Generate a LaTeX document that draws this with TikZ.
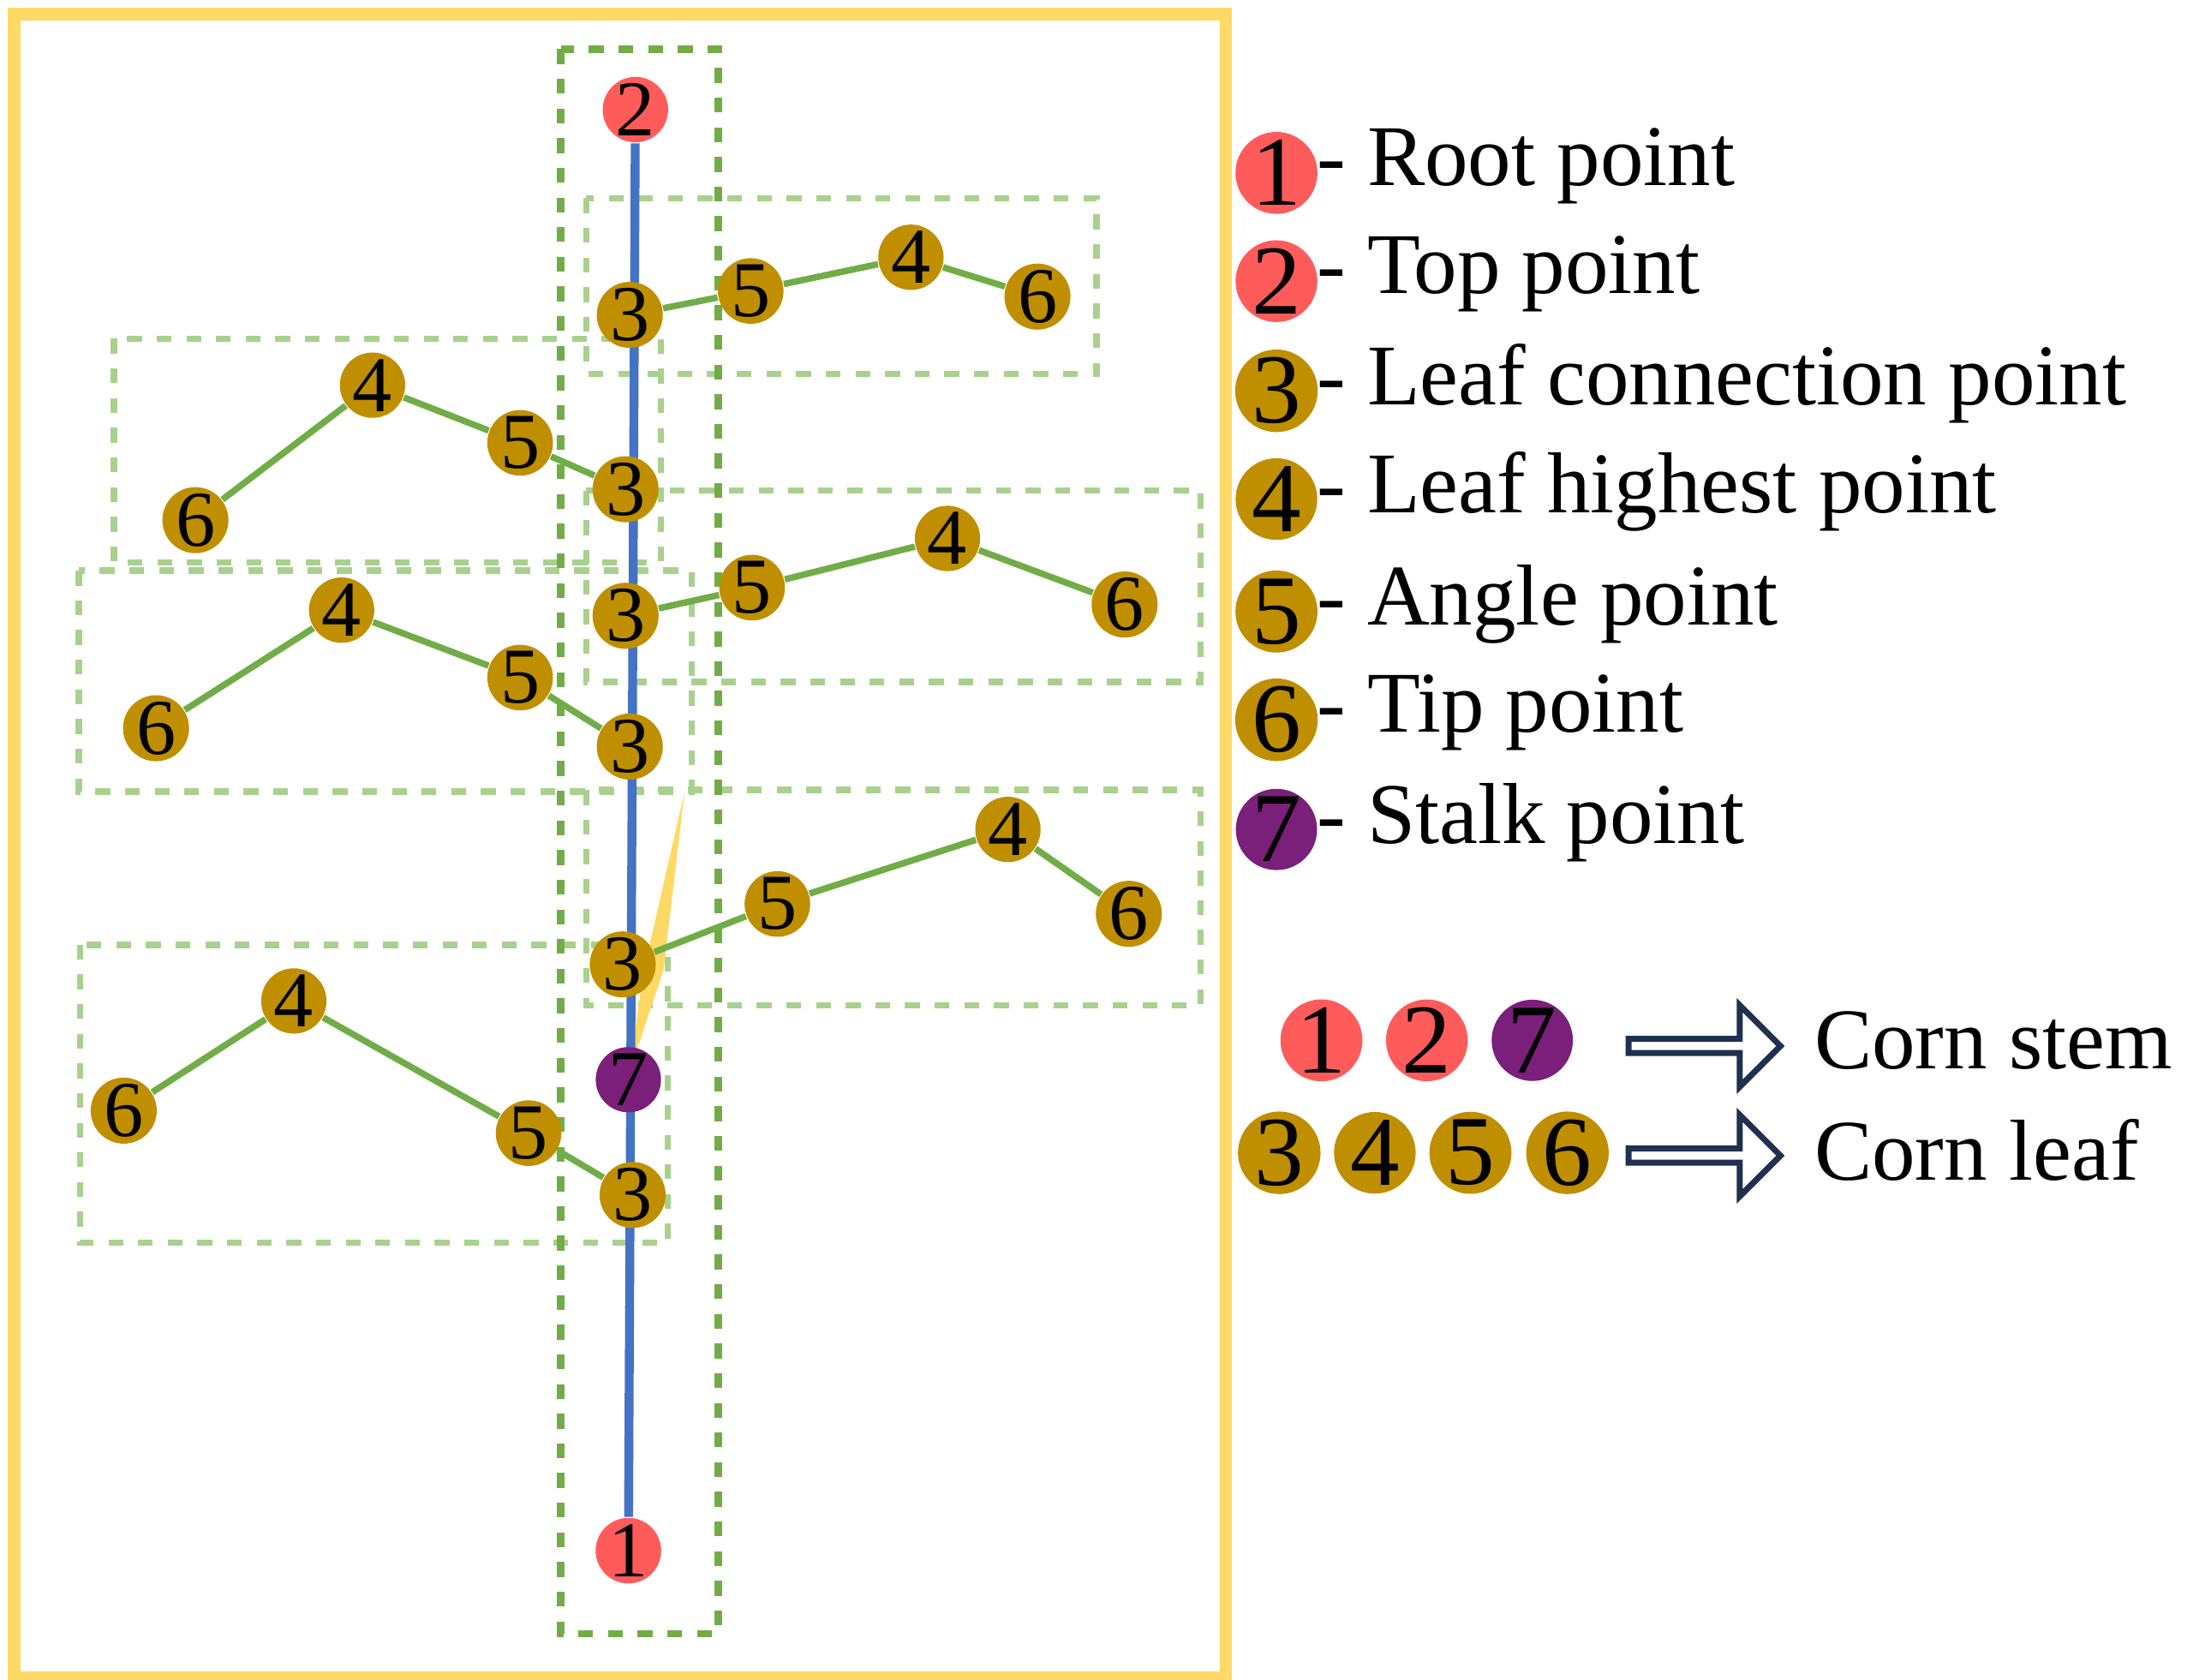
\documentclass[tikz,border=0pt]{standalone}
\usepackage{fontspec}
\setmainfont{Liberation Serif}
\usetikzlibrary{shapes.arrows}
\definecolor{ptred}{HTML}{FF5B5B}
\definecolor{ptgold}{HTML}{BF8F00}
\definecolor{ptpurple}{HTML}{7A1F7A}
\definecolor{stemblue}{HTML}{4472C4}
\definecolor{leafgreen}{HTML}{70AD47}
\definecolor{boxgreen}{HTML}{A9D18E}
\definecolor{frameyellow}{HTML}{FFD966}
\definecolor{arrownavy}{HTML}{1F3050}
\tikzset{
  pt/.style={circle, inner sep=0pt, minimum size=0.4cm, font=\fontsize{16}{16}\selectfont},
  red pt/.style={pt, fill=ptred},
  gold pt/.style={pt, fill=ptgold},
  purple pt/.style={pt, fill=ptpurple},
  big/.style={minimum size=0.56cm, font=\fontsize{20}{20}\selectfont},
  leaf/.style={leafgreen, line width=1.3pt},
  leaf box/.style={boxgreen, dashed, line width=1.3pt},
  legend/.style={anchor=west, inner sep=0pt, font=\fontsize{17.5}{17.5}\selectfont},
  hollow arrow/.style={single arrow, draw=arrownavy, line width=1.2pt, minimum width=0.58cm,
    single arrow head extend=0.1cm, minimum height=1.08cm, inner sep=0pt}
}
\begin{document}
\begin{tikzpicture}[x=0.01cm, y=-0.01cm]
  \useasboundingbox (0,0) rectangle (1560,1195);
  % Frame and boxes
  \draw[frameyellow, line width=2.5pt] (10,10) rectangle (872,1193);
  \draw[leaf box] (417,141) rectangle (780,266);
  \draw[leaf box] (81,241) rectangle (470,400);
  \draw[leaf box] (417,349) rectangle (854,485);
  \draw[leaf box] (56,406) rectangle (492,563);
  \draw[leaf box] (417,562) rectangle (854,715);
  \draw[leaf box] (57,672) rectangle (475,884);
  \draw[leafgreen, dashed, line width=1.5pt] (399,35) rectangle (511,1162);
  \fill[frameyellow] (487,563) -- (472,690) -- (447,765) -- (458,690) -- cycle;

  % Stem points
  \node[red pt] (top) at (452,78) {2};
  \node[red pt] (root) at (447,1103) {1};
  \node[purple pt] (stalk) at (447,768) {7};
  \draw[stemblue, line width=1.8pt] (top) -- (root);
  \node[purple pt] at (stalk) {7};

  % Leaves: connection, angle, highest, tip
  \foreach \n/\ax/\ay/\bx/\by/\cx/\cy/\dx/\dy in {
      a/448/224/534/207/648/183/738/211,
      b/445/348/370/315/265/274/139/370,
      c/445/438/535/418/674/383/800/430,
      d/448/531/370/482/243/434/111/518,
      e/443/686/553/643/717/590/803/650,
      f/450/850/376/806/209/712/88/790} {
    \node[gold pt] (\n3) at (\ax,\ay) {3};
    \node[gold pt] (\n5) at (\bx,\by) {5};
    \node[gold pt] (\n4) at (\cx,\cy) {4};
    \node[gold pt] (\n6) at (\dx,\dy) {6};
    \draw[leaf] (\n3) -- (\n5) -- (\n4) -- (\n6);
  }

  % Legend
  \foreach \k/\y/\s/\txt in {1/123/red/Root point, 2/200/red/Top point,
      3/278/gold/Leaf connection point, 4/355/gold/Leaf highest point,
      5/435/gold/Angle point, 6/512/gold/Tip point, 7/590/purple/Stalk point} {
    \node[\s\space pt, big] (key\k) at (908,\y) {\k};
    \node[legend] (txt\k) at (936,\y-5) {- \txt};
  }

  \node[red pt, big] (s1) at (940,740) {1};
  \node[red pt, big] (s2) at (1015,740) {2};
  \node[purple pt, big] (s7) at (1090,740) {7};
  \node[hollow arrow] (arrstem) at (1210,744) {};
  \node[legend] (stem) at (1290,740) {Corn stem};

  \foreach \k/\x in {3/910,4/978,5/1046,6/1115}
    \node[gold pt, big] (l\k) at (\x,820) {\k};
  \node[hollow arrow] (arrleaf) at (1210,822) {};
  \node[legend] (leafname) at (1290,818) {Corn leaf};
\end{tikzpicture}
\end{document}
